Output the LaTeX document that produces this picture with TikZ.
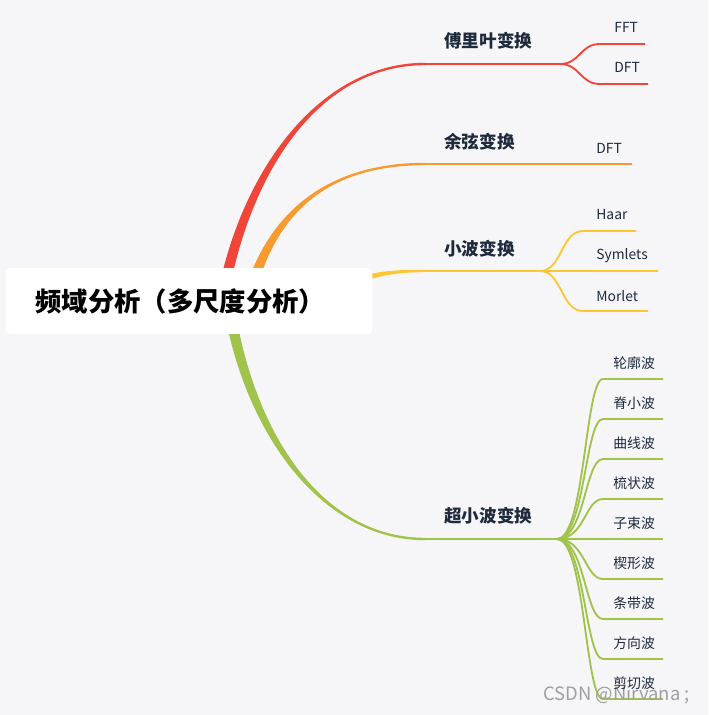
\documentclass[tikz,border=0pt]{standalone}
\usepackage{fontspec}
\setmainfont{Noto Sans CJK SC}
\usetikzlibrary{calc}

\definecolor{bg}{HTML}{F6F6F8}
\definecolor{ink}{HTML}{1F2B3D}
\definecolor{mred}{HTML}{F04538}
\definecolor{morange}{HTML}{F79A30}
\definecolor{myellow}{HTML}{FCC733}
\definecolor{mgreen}{HTML}{A0C34B}

\pgfdeclarelayer{back}
\pgfsetlayers{back,main}

\tikzset{
  rootbox/.style={fill=white, rounded corners=2.5pt, text=black,
    font=\fontsize{15}{18}\selectfont\bfseries, align=left,
    text width=6.14cm, inner xsep=0.6cm, minimum height=1.32cm},
  topic/.style={anchor=west, inner sep=0pt, text=ink,
    font=\fontsize{10}{12}\selectfont\bfseries},
  leaf/.style={anchor=west, inner sep=0pt, text=ink,
    font=\fontsize{7.9}{9}\selectfont},
  trunk/.style={line width=1.35pt},
  twig/.style={line width=1.05pt},
  wmark/.style={anchor=west, inner sep=0pt, text=gray!75,
    font=\fontsize{10.5}{12}\selectfont}
}

\begin{document}
\begin{tikzpicture}[x=0.02cm, y=-0.02cm]
\node[rootbox, anchor=west] (root) at (5,301) {频域分析（多尺度分析）};

\node[topic] (fourier) at (444,41) {傅里叶变换};
\node[topic] (cosine) at (444,142) {余弦变换};
\node[topic] (wavelet) at (444,249) {小波变换};
\node[topic] (super) at (444,516) {超小波变换};

\coordinate (r0) at (222,300);
\coordinate (o0) at (248,300);
\coordinate (y0) at (330,290);
\coordinate (g0) at (228,300);
\coordinate (fourier-a) at (425,64);  \coordinate (fourier-b) at (560,64);
\coordinate (cosine-a) at (425,164);  \coordinate (cosine-b) at (632,164);
\coordinate (wavelet-a) at (425,271); \coordinate (wavelet-b) at (540,271);
\coordinate (super-a) at (425,539);   \coordinate (super-b) at (557,539);

% leaves of the first three topics
\node[leaf] (fft) at (614,27) {FFT};
\node[leaf] (dft) at (614,67) {DFT};
\node[leaf] (dct) at (596,148) {DFT};
\node[leaf] (haar) at (596,215) {Haar};
\node[leaf] (sym) at (596,256) {Symlets};
\node[leaf] (morlet) at (596,296) {Morlet};
\coordinate (fft-a) at (600,44);    \coordinate (fft-b) at (645,44);
\coordinate (dft-a) at (600,84);    \coordinate (dft-b) at (648,84);
\coordinate (haar-a) at (583,231);  \coordinate (haar-b) at (636,231);
\coordinate (sym-b) at (658,271);
\coordinate (morlet-a) at (583,311); \coordinate (morlet-b) at (648,311);

\node[wmark] (csdn) at (543,695) {CSDN @Nirvana ;};

\begin{pgfonlayer}{back}
\fill[bg] (0,0) rectangle (708,715);

% main branches, thick at the root
\fill[mred] ($(r0)+(-5.5,0)$) .. controls (240,170) and (320,62.8) .. ($(fourier-a)+(0,-1.2)$)
  -- ($(fourier-a)+(0,1.2)$) .. controls (320,65.2) and (250,170) .. ($(r0)+(5.5,0)$) -- cycle;
\fill[morange] ($(o0)+(-5.5,0)$) .. controls (263,220) and (320,162.8) .. ($(cosine-a)+(0,-1.2)$)
  -- ($(cosine-a)+(0,1.2)$) .. controls (320,165.2) and (273,220) .. ($(o0)+(5.5,0)$) -- cycle;
\fill[myellow] ($(y0)+(0,-4)$) .. controls (370,271) and (390,269.8) .. ($(wavelet-a)+(0,-1.2)$)
  -- ($(wavelet-a)+(0,1.2)$) .. controls (390,272.2) and (370,277) .. ($(y0)+(0,4)$) -- cycle;
\fill[mgreen] ($(g0)+(-5.5,0)$) .. controls (242,430) and (320,540.2) .. ($(super-a)+(0,1.2)$)
  -- ($(super-a)+(0,-1.2)$) .. controls (320,537.8) and (252,430) .. ($(g0)+(5.5,0)$) -- cycle;

\draw[trunk, mred] (fourier-a) -- (fourier-b);
\draw[trunk, morange] (cosine-a) -- (cosine-b);
\draw[trunk, myellow] (wavelet-a) -- (wavelet-b);
\draw[trunk, mgreen] (super-a) -- (super-b);

\draw[twig, mred] (fourier-b) .. controls +(20,0) and +(-20,0) .. (fft-a) -- (fft-b);
\draw[twig, mred] (fourier-b) .. controls +(20,0) and +(-20,0) .. (dft-a) -- (dft-b);
\draw[twig, myellow] (wavelet-b) .. controls +(22,0) and +(-22,0) .. (haar-a) -- (haar-b);
\draw[twig, myellow] (wavelet-b) -- (sym-b);
\draw[twig, myellow] (wavelet-b) .. controls +(22,0) and +(-22,0) .. (morlet-a) -- (morlet-b);

\foreach \nm/\txt [count=\i] in {contour/轮廓波, ridge/脊小波, curve/曲线波,
    comb/梳状波, beam/子束波, wedge/楔形波, band/条带波, direct/方向波, shear/剪切波} {
  \pgfmathsetmacro{\ly}{339+40*\i}
  \coordinate (\nm-a) at (603,\ly);
  \coordinate (\nm-b) at (663,\ly);
  \draw[twig, mgreen] (super-b) .. controls +(28,0) and +(-18,0) .. (\nm-a) -- (\nm-b);
}
\end{pgfonlayer}

\foreach \nm/\txt [count=\i] in {contour/轮廓波, ridge/脊小波, curve/曲线波,
    comb/梳状波, beam/子束波, wedge/楔形波, band/条带波, direct/方向波, shear/剪切波}
  \node[leaf] (\nm) at (613,323+40*\i) {\txt};
\end{tikzpicture}
\end{document}
